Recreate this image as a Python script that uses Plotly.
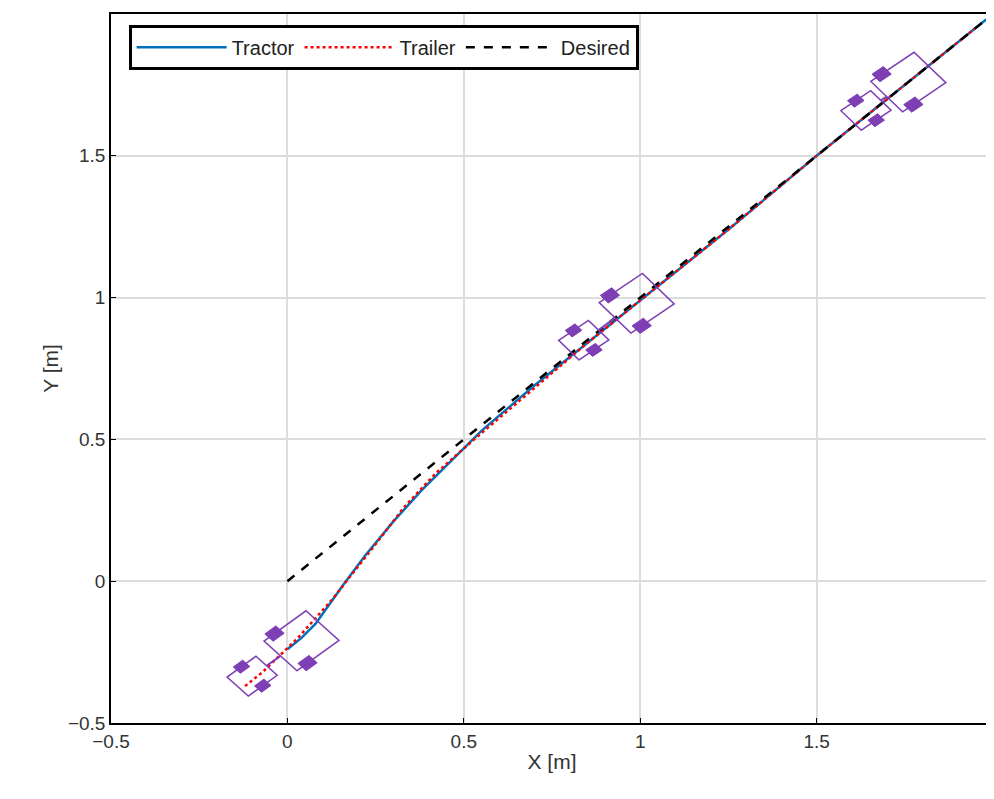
import math
import numpy as np
import plotly.graph_objects as go

# paths
desired_x = [0.0, 0.5, 2.0]
desired_y = [0.0, 0.5, 2.0]
tractor_x = [0.0, 0.04, 0.08, 0.12, 0.16, 0.22, 0.30, 0.38, 0.46, 0.55, 0.7, 0.85, 1.0, 1.25, 1.5, 1.75, 2.0]
tractor_y = [-0.24, -0.20, -0.15, -0.08, -0.01, 0.09, 0.21, 0.32, 0.42, 0.53, 0.69, 0.84, 0.99, 1.24, 1.5, 1.75, 2.0]
trailer_x = [-0.12, -0.07, -0.02, 0.03, 0.08, 0.13, 0.18, 0.25, 0.33, 0.42, 0.52, 0.7, 0.85, 1.0, 1.25, 1.5, 1.75, 1.95]
trailer_y = [-0.37, -0.32, -0.26, -0.20, -0.13, -0.06, 0.02, 0.13, 0.26, 0.38, 0.49, 0.68, 0.84, 0.99, 1.24, 1.5, 1.75, 1.95]

# vehicle snapshots: (center x, center y, heading deg)
tractor_poses = [(0.04, -0.21, 42), (0.99, 0.98, 40), (1.76, 1.76, 40)]
trailer_poses = [(-0.10, -0.335, 42), (0.84, 0.85, 40), (1.64, 1.66, 40)]

PURPLE = '#7E3FB5'


def rot(px, py, cx, cy, th):
    c, s = math.cos(th), math.sin(th)
    return cx + px * c - py * s, cy + px * s + py * c


def box_path(cx, cy, th, L, W):
    pts = [(-L/2, -W/2), (L/2, -W/2), (L/2, W/2), (-L/2, W/2)]
    pts = [rot(px, py, cx, cy, th) for px, py in pts]
    return 'M ' + ' L '.join(f'{x:.4f},{y:.4f}' for x, y in pts) + ' Z'


shapes = []


def vehicle(cx, cy, deg, L, W, wheel_off, wsz):
    th = math.radians(deg)
    shapes.append(dict(type='path', path=box_path(cx, cy, th, L, W),
                       line=dict(color=PURPLE, width=1.5)))
    for side in (-1, 1):
        wx, wy = rot(wheel_off, side * W/2, cx, cy, th)
        shapes.append(dict(type='path', path=box_path(wx, wy, th, wsz * 1.2, wsz),
                           fillcolor=PURPLE, line=dict(color=PURPLE, width=1)))
    return th


for (tcx, tcy, tdeg), (rcx, rcy, rdeg) in zip(tractor_poses, trailer_poses):
    th1 = vehicle(tcx, tcy, tdeg, 0.16, 0.14, -0.04, 0.035)
    th2 = vehicle(rcx, rcy, rdeg, 0.11, 0.09, 0.0, 0.03)
    # hitch link
    hx1, hy1 = rot(-0.08, 0, tcx, tcy, th1)
    hx2, hy2 = rot(0.055, 0, rcx, rcy, th2)
    shapes.append(dict(type='line', x0=hx1, y0=hy1, x1=hx2, y1=hy2,
                       line=dict(color=PURPLE, width=2)))

fig = go.Figure()
fig.add_trace(go.Scatter(x=tractor_x, y=tractor_y, mode='lines', name='Tractor',
                         line=dict(color='#0072BD', width=2.5)))
fig.add_trace(go.Scatter(x=trailer_x, y=trailer_y, mode='lines', name='Trailer',
                         line=dict(color='#FF0000', width=2.5, dash='dot')))
fig.add_trace(go.Scatter(x=desired_x, y=desired_y, mode='lines', name='Desired',
                         line=dict(color='black', width=2.5, dash='dash')))

axis_common = dict(showgrid=True, gridcolor='#DCDCDC', gridwidth=1.5, zeroline=False,
                   showline=True, linecolor='black', linewidth=1.5, mirror=True,
                   ticks='inside', ticklen=5, tickcolor='black',
                   tickfont=dict(size=19, color='#333'))
fig.update_xaxes(range=[-0.5, 2], dtick=0.5, title=dict(text='X [m]', font=dict(size=21, color='#333'), standoff=4), **axis_common)
fig.update_yaxes(range=[-0.5, 2], dtick=0.5, title=dict(text='Y [m]', font=dict(size=21, color='#333'), standoff=4), **axis_common)
fig.update_layout(
    width=994, height=799, plot_bgcolor='white', paper_bgcolor='white',
    font=dict(family='Liberation Sans, Arial', color='#333'),
    margin=dict(l=103, r=7, t=4, b=84),
    shapes=shapes,
    legend=dict(orientation='h', x=0.02, y=0.985, xanchor='left', yanchor='top',
                bordercolor='black', borderwidth=3, bgcolor='white',
                font=dict(size=20, color='#222'), itemwidth=90, tracegroupgap=0),
)
fig.write_html('out.html')
